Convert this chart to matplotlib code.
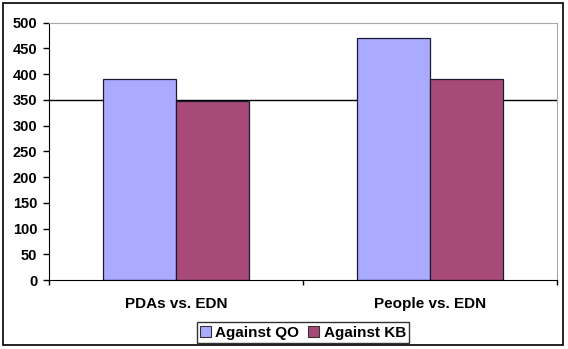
import matplotlib
matplotlib.use("Agg")
import matplotlib.pyplot as plt
import matplotlib.patches as mpatches
import numpy as np

# Data
categories = ["PDAs vs. EDN", "People vs. EDN"]
series_names = ["Against QO", "Against KB"]
against_qo = [391, 470]
against_kb = [347, 391]
ref_value = 350
y_ticks = list(range(0, 501, 50))

colors = ["#AAAAFF", "#A84A78"]

plt.rcParams["font.family"] = ["Liberation Sans", "DejaVu Sans"]
plt.rcParams["font.weight"] = "bold"

fig = plt.figure(figsize=(5.68, 3.49), dpi=100)
ax = fig.add_axes([49 / 568, 1 - 280 / 349, 508 / 568, 257.3 / 349])

x = np.arange(len(categories))
width = 1 / 1.75 / 2  # Excel gap width 75%

ax.axhline(ref_value, color="black", lw=1, zorder=0.5)
for i, (vals, name) in enumerate(zip([against_qo, against_kb], series_names)):
    ax.bar(x + (i - 0.5) * width, vals, width, color=colors[i],
           edgecolor="#1a1a33", linewidth=0.9, label=name, zorder=2)

ax.set_xlim(-0.5, len(categories) - 0.5)
ax.set_ylim(0, 500)
ax.set_yticks(y_ticks)
ax.tick_params(axis="y", direction="out", length=4.5, width=1, labelsize=10.5, pad=4)

ax.set_xticks(x)
ax.set_xticklabels(categories, fontsize=11, fontweight="bold")
ax.tick_params(axis="x", which="major", length=0, pad=12)
ax.set_xticks(np.arange(-0.5, len(categories), 1), minor=True)
ax.tick_params(axis="x", which="minor", direction="out", length=3.5, width=1)

for lbl in ax.get_yticklabels():
    lbl.set_fontweight("bold")

ax.spines["left"].set_color("black")
ax.spines["bottom"].set_color("black")
ax.spines["top"].set_color("#A8A8A8")
ax.spines["right"].set_color("#A8A8A8")

leg = fig.legend(loc="center", bbox_to_anchor=(303 / 568, 1 - 332.5 / 349),
                 ncol=2, fontsize=11, frameon=True, fancybox=False,
                 edgecolor="black", handlelength=0.7, handleheight=0.7,
                 handletextpad=0.3, columnspacing=0.6, borderpad=0.2,
                 borderaxespad=0)
leg.get_frame().set_linewidth(1)
for t in leg.get_texts():
    t.set_fontweight("bold")
for h in leg.legend_handles:
    h.set_edgecolor("#333333")
    h.set_linewidth(0.8)

border = mpatches.Rectangle((3 / 568, 1 - 345 / 349), 560 / 568, 342 / 349,
                            transform=fig.transFigure, fill=False,
                            edgecolor="black", lw=1.2)
fig.patches.append(border)

fig.savefig("out.png", dpi=100)
